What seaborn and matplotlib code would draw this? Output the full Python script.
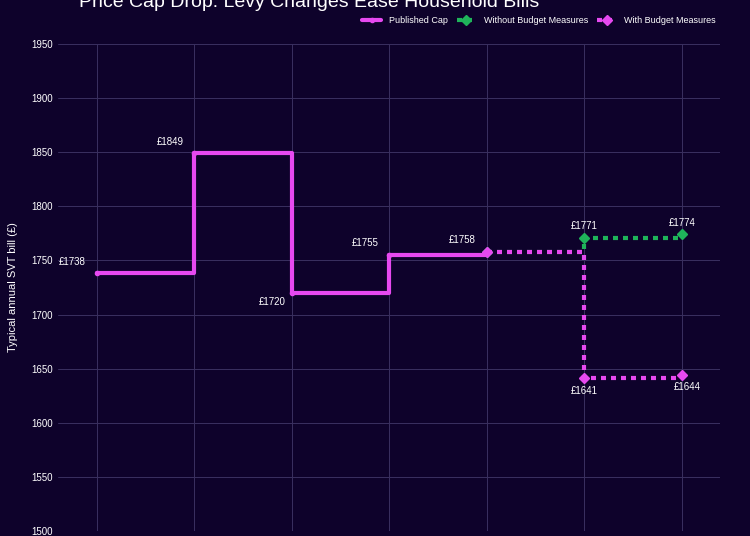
import matplotlib
matplotlib.use("Agg")
import matplotlib.pyplot as plt
import seaborn as sns

labels = ["Jan 25", "April 25", "July 25", "Oct 25", "Jan 26", "April 26", "July 26 forecast"]
cap = [1738, 1849, 1720, 1755, 1758]
without_budget = [1758, 1771, 1774]
with_budget = [1758, 1641, 1644]

bg = "#0e022b"
pink = "#e649f0"
green = "#1fb35a"

sns.set_theme(style="dark")
plt.rcParams['font.family'] = ['Liberation Sans', 'DejaVu Sans']
fig = plt.figure(figsize=(7.5, 5.36), dpi=100, facecolor=bg)
ax = fig.add_axes([58 / 750, 5 / 536, 662 / 750, 487 / 536])
ax.set_facecolor(bg)

x_cap = list(range(len(cap)))
x_fc = [4, 5, 6]
ax.plot(x_fc, without_budget, drawstyle="steps-post", color=green, lw=3, ls=(0, (1.2, 1.2)),
        marker="D", ms=5, label="Without Budget Measures")
ax.plot(x_fc, with_budget, drawstyle="steps-post", color=pink, lw=3, ls=(0, (1.2, 1.2)),
        marker="D", ms=5, label="With Budget Measures")
ax.plot(x_cap, cap, drawstyle="steps-post", color=pink, lw=3, marker="o", ms=3,
        label="Published Cap")

for x, v in zip(x_cap, cap):
    dx, dy = (-0.25, 8) if v != 1720 else (-0.2, -11)
    ax.text(x + dx, v + dy, f"£{v}", color="white", fontsize=7, ha="center")
ax.text(5, 1771 + 8, "£1771", color="white", fontsize=7, ha="center")
ax.text(6, 1774 + 8, "£1774", color="white", fontsize=7, ha="center")
ax.text(5, 1641 - 14, "£1641", color="white", fontsize=7, ha="center")
ax.text(6.05, 1644 - 14, "£1644", color="white", fontsize=7, ha="center")

ax.set_xlim(-0.4, 6.39)
ax.set_ylim(1500, 1950)
ax.set_xticks(range(len(labels)))
ax.set_xticklabels(labels)
ax.set_yticks(range(1500, 1951, 50))
ax.tick_params(colors="white", labelsize=7, length=0)
ax.grid(True, color="#3a3060", lw=0.7)
for s in ax.spines.values():
    s.set_visible(False)
ax.set_ylabel("Typical annual SVT bill (£)", color="white", fontsize=8, labelpad=10)

h, l = ax.get_legend_handles_labels()
order = [2, 0, 1]
fig.legend([h[i] for i in order], [l[i] for i in order], loc="upper right", bbox_to_anchor=(0.965, 0.985),
           ncol=3, frameon=False, fontsize=6.5, labelcolor="white", handlelength=2.2, columnspacing=1)
fig.text(0.105, 0.995, "Price Cap Drop: Levy Changes Ease Household Bills", color="white",
         fontsize=14, va="center")
fig.savefig("out.png", dpi=100, facecolor=bg)
